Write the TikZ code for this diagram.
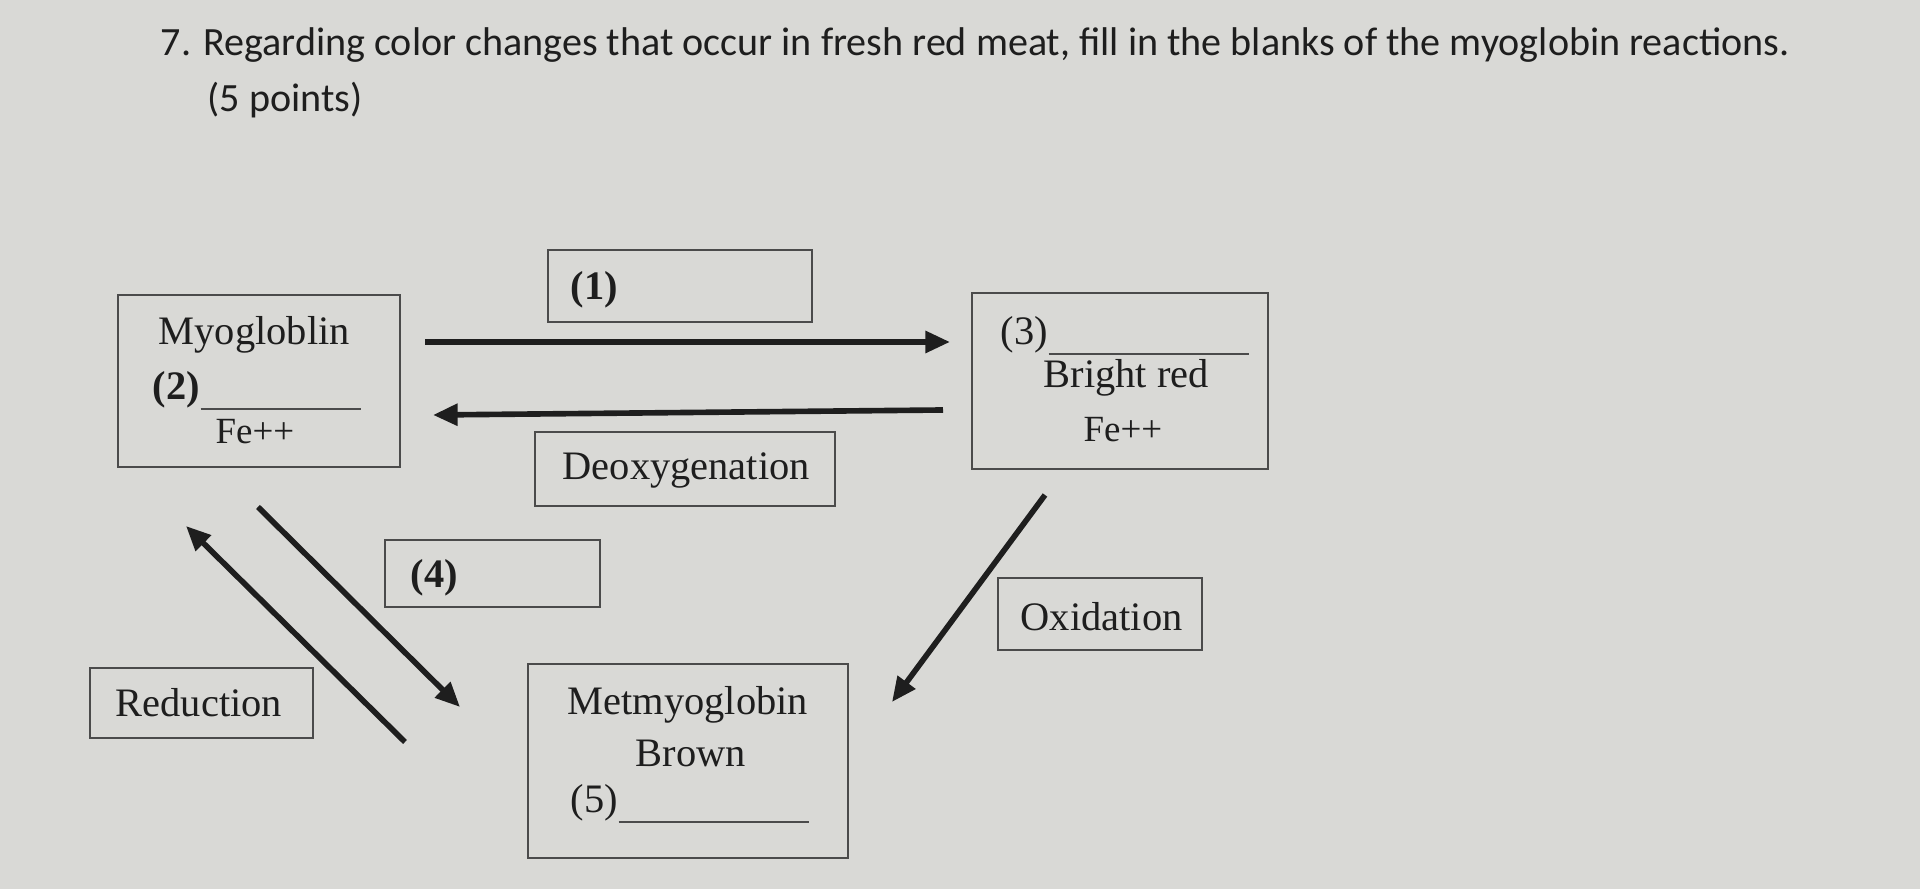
\documentclass[tikz,border=0pt]{standalone}
\usepackage{fontspec}
\setmainfont{Liberation Serif}
\newfontfamily\titlefont{Carlito}
\usetikzlibrary{arrows.meta}
\definecolor{bg}{HTML}{D9D9D6}
\definecolor{ink}{HTML}{1E1E1E}
\tikzset{
  box/.style={draw=ink!80, line width=0.5pt},
  lbl/.style={anchor=west, inner sep=0pt, text=ink, font=\fontsize{11.5}{13}\selectfont},
  blank/.style={draw=ink!80, line width=0.5pt},
  arr/.style={draw=ink, line width=1.6pt, -{Triangle[length=7pt,width=6pt]}},
  ttl/.style={anchor=west, inner sep=0pt, text=ink, font=\titlefont\fontsize{11.4}{13}\selectfont}
}
\begin{document}
\begin{tikzpicture}[x=0.01cm,y=-0.01cm]
\fill[bg] (0,0) rectangle (1920,889);
\useasboundingbox (0,0) rectangle (1920,889);
\node[ttl] (t1) at (160,45) {7. Regarding color changes that occur in fresh red meat, fill in the blanks of the myoglobin reactions.};
\node[ttl] (t2) at (207,100) {(5 points)};
% boxes
\draw[box] (118,295) rectangle (400,467);
\draw[box] (548,250) rectangle (812,322);
\draw[box] (972,293) rectangle (1268,469);
\draw[box] (535,432) rectangle (835,506);
\draw[box] (385,540) rectangle (600,607);
\draw[box] (998,578) rectangle (1202,650);
\draw[box] (90,668) rectangle (313,738);
\draw[box] (528,664) rectangle (848,858);
% texts
\node[lbl] (my) at (158,335) {Myogloblin};
\node[lbl,font=\bfseries\fontsize{11.5}{13}\selectfont] (b2) at (152,390) {(2)};
\draw[blank] (b2.south east) -- ++(160,0);
\node[lbl,font=\fontsize{10.5}{12}\selectfont] (fe1) at (215,432) {Fe++};
\node[lbl,font=\bfseries\fontsize{11.5}{13}\selectfont] (b1) at (570,290) {(1)};
\node[lbl] (b3) at (1000,335) {(3)};
\draw[blank] (b3.south east) -- ++(200,0);
\node[lbl] (br) at (1043,378) {Bright red};
\node[lbl,font=\fontsize{10.5}{12}\selectfont] (fe2) at (1083,430) {Fe++};
\node[lbl] (deo) at (562,470) {Deoxygenation};
\node[lbl,font=\bfseries\fontsize{11.5}{13}\selectfont] (b4) at (410,578) {(4)};
\node[lbl] (ox) at (1020,617) {Oxidation};
\node[lbl] (red) at (115,703) {Reduction};
\node[lbl] (met) at (567,705) {Metmyoglobin};
\node[lbl] (brn) at (635,753) {Brown};
\node[lbl] (b5) at (570,803) {(5)};
\draw[blank] (b5.south east) -- ++(190,0);
% arrows
\coordinate (a1s) at (425,342); \coordinate (a1e) at (950,342);
\coordinate (a2s) at (943,410); \coordinate (a2e) at (433,415);
\coordinate (a3s) at (405,742); \coordinate (a3e) at (186,526);
\coordinate (a4s) at (258,507); \coordinate (a4e) at (460,707);
\coordinate (a5s) at (1045,495); \coordinate (a5e) at (892,702);
\draw[arr] (a1s) -- (a1e);
\draw[arr] (a2s) -- (a2e);
\draw[arr] (a3s) -- (a3e);
\draw[arr] (a4s) -- (a4e);
\draw[arr] (a5s) -- (a5e);
\end{tikzpicture}
\end{document}
